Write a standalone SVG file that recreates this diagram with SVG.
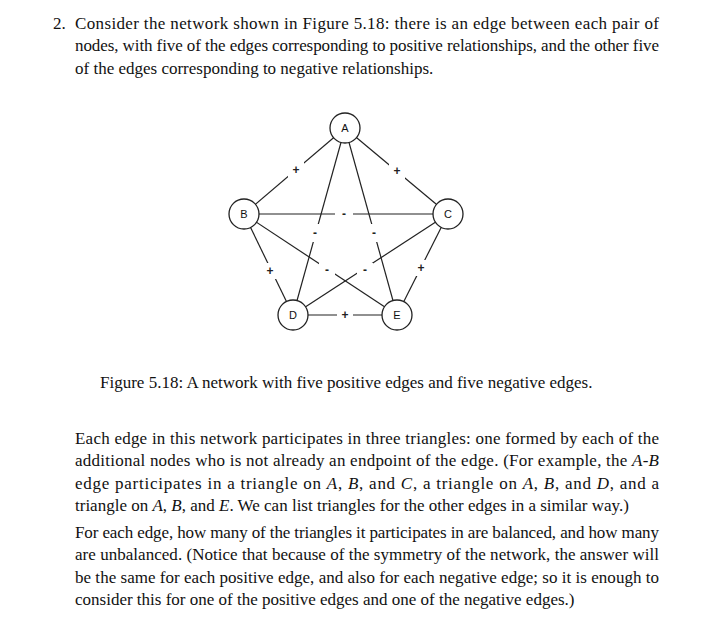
<svg xmlns="http://www.w3.org/2000/svg" width="701" height="621" viewBox="0 0 701 621">
<style>
.t{font-family:"Liberation Serif",serif;font-size:17px;fill:#111}
.e{stroke:#222;stroke-width:1.2}
.g{fill:#fff}
.l{font-family:"Liberation Sans",sans-serif;font-size:12px;font-weight:bold;text-anchor:middle;fill:#222}
.n circle{fill:#fff;stroke:#222;stroke-width:1.3}
.n text{font-family:"Liberation Sans",sans-serif;font-size:11px;text-anchor:middle;fill:#111}
</style>
<rect width="701" height="621" fill="#fff"/>
<text class="t" x="53" y="29">2.</text>
<text class="t" x="75" y="29" textLength="584" lengthAdjust="spacing">Consider the network shown in Figure 5.18: there is an edge between each pair of</text>
<text class="t" x="75" y="51" textLength="584" lengthAdjust="spacing">nodes, with five of the edges corresponding to positive relationships, and the other five</text>
<text class="t" x="75" y="74">of the edges corresponding to negative relationships.</text>
<g id="connectors">
<line class="e" x1="345" y1="128" x2="244" y2="214"/>
<line class="e" x1="345" y1="128" x2="448" y2="214"/>
<line class="e" x1="244" y1="214" x2="448" y2="214"/>
<line class="e" x1="345" y1="128" x2="293" y2="315"/>
<line class="e" x1="345" y1="128" x2="397" y2="315"/>
<line class="e" x1="244" y1="214" x2="293" y2="315"/>
<line class="e" x1="448" y1="214" x2="397" y2="315"/>
<line class="e" x1="244" y1="214" x2="397" y2="315"/>
<line class="e" x1="448" y1="214" x2="293" y2="315"/>
<line class="e" x1="293" y1="315" x2="397" y2="315"/>
<rect class="g" x="288" y="162" width="16" height="16"/>
<rect class="g" x="389" y="163" width="16" height="16"/>
<rect class="g" x="335" y="207" width="18" height="14"/>
<rect class="g" x="308" y="224" width="14" height="18"/>
<rect class="g" x="367" y="224" width="14" height="18"/>
<rect class="g" x="262" y="263" width="16" height="16"/>
<rect class="g" x="413" y="260" width="16" height="16"/>
<rect class="g" x="319" y="263" width="16" height="14"/>
<rect class="g" x="357" y="263" width="16" height="14"/>
<rect class="g" x="337" y="308" width="16" height="14"/>
<text class="l" x="296" y="174">+</text>
<text class="l" x="397" y="175">+</text>
<text class="l" x="344" y="218">-</text>
<text class="l" x="315" y="237">-</text>
<text class="l" x="374" y="237">-</text>
<text class="l" x="270" y="275">+</text>
<text class="l" x="421" y="272">+</text>
<text class="l" x="327" y="274">-</text>
<text class="l" x="365" y="274">-</text>
<text class="l" x="345" y="319">+</text>
</g>
<g id="A" class="n"><circle cx="345" cy="128" r="15"/><text x="345" y="132">A</text></g>
<g id="B" class="n"><circle cx="244" cy="214" r="15"/><text x="244" y="218">B</text></g>
<g id="C" class="n"><circle cx="448" cy="214" r="15"/><text x="448" y="218">C</text></g>
<g id="D" class="n"><circle cx="293" cy="315" r="15"/><text x="293" y="319">D</text></g>
<g id="E" class="n"><circle cx="397" cy="315" r="15"/><text x="397" y="319">E</text></g>
<text class="t" x="100" y="388">Figure 5.18: A network with five positive edges and five negative edges.</text>
<text class="t" x="75" y="444" textLength="584" lengthAdjust="spacing">Each edge in this network participates in three triangles: one formed by each of the</text>
<text class="t" x="75" y="466" textLength="584" lengthAdjust="spacing">additional nodes who is not already an endpoint of the edge. (For example, the <tspan font-style="italic">A</tspan>-<tspan font-style="italic">B</tspan></text>
<text class="t" x="75" y="489" textLength="584" lengthAdjust="spacing">edge participates in a triangle on <tspan font-style="italic">A</tspan>, <tspan font-style="italic">B</tspan>, and <tspan font-style="italic">C</tspan>, a triangle on <tspan font-style="italic">A</tspan>, <tspan font-style="italic">B</tspan>, and <tspan font-style="italic">D</tspan>, and a</text>
<text class="t" x="75" y="511">triangle on <tspan font-style="italic">A</tspan>, <tspan font-style="italic">B</tspan>, and <tspan font-style="italic">E</tspan>. We can list triangles for the other edges in a similar way.)</text>
<text class="t" x="75" y="538" textLength="584" lengthAdjust="spacing">For each edge, how many of the triangles it participates in are balanced, and how many</text>
<text class="t" x="75" y="560" textLength="584" lengthAdjust="spacing">are unbalanced. (Notice that because of the symmetry of the network, the answer will</text>
<text class="t" x="75" y="583" textLength="584" lengthAdjust="spacing">be the same for each positive edge, and also for each negative edge; so it is enough to</text>
<text class="t" x="75" y="605">consider this for one of the positive edges and one of the negative edges.)</text>
</svg>
